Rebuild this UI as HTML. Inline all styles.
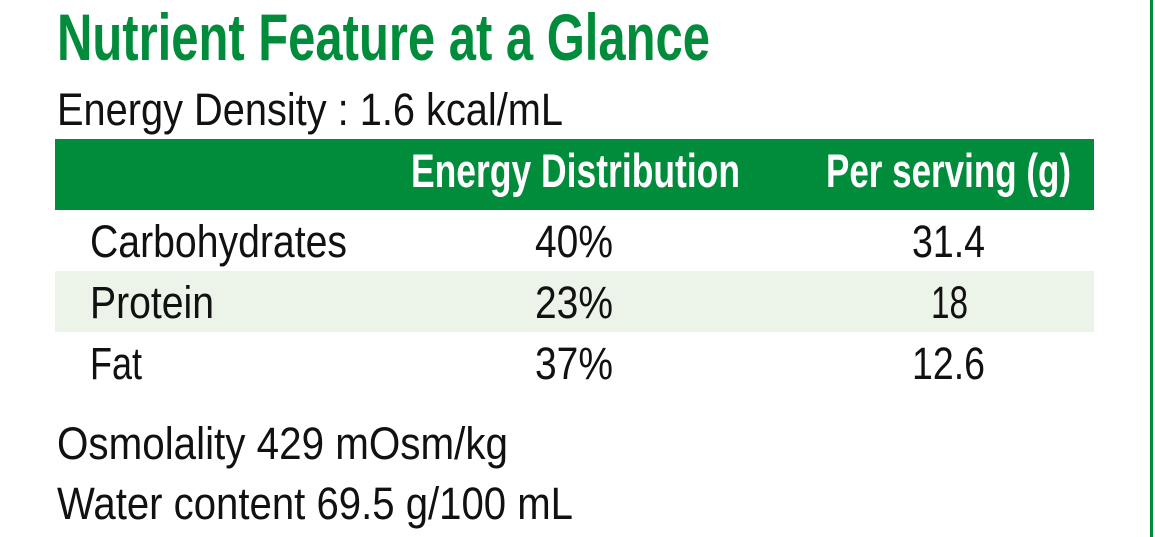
<!DOCTYPE html>
<html><head><meta charset="utf-8"><style>html,body{margin:0;padding:0;background:#fff}svg{display:block}</style></head>
<body>
<svg width="1155" height="537" viewBox="0 0 1155 537" xmlns="http://www.w3.org/2000/svg" font-family="Liberation Sans, sans-serif">
<rect x="1150" y="0" width="3" height="537" fill="#008c3a"/>
<text x="57" y="60" font-size="66" font-weight="bold" fill="#008c3a" textLength="653" lengthAdjust="spacingAndGlyphs">Nutrient Feature at a Glance</text>
<text x="57" y="125" font-size="45" fill="#111" textLength="506" lengthAdjust="spacingAndGlyphs">Energy Density  : 1.6 kcal/mL</text>
<rect x="55" y="139" width="1039" height="71" fill="#008c3a"/>
<text x="411" y="187" font-size="47" font-weight="bold" fill="#fff" textLength="329" lengthAdjust="spacingAndGlyphs">Energy Distribution</text>
<text x="826" y="187" font-size="47" font-weight="bold" fill="#fff" textLength="245" lengthAdjust="spacingAndGlyphs">Per serving (g)</text>
<rect x="55" y="271" width="1039" height="61" fill="#ecf3e9"/>
<g font-size="45" fill="#111">
<text x="90" y="257" textLength="257" lengthAdjust="spacingAndGlyphs">Carbohydrates</text>
<text x="535" y="257" textLength="78" lengthAdjust="spacingAndGlyphs">40%</text>
<text x="912" y="257" textLength="73" lengthAdjust="spacingAndGlyphs">31.4</text>
<text x="90" y="318" textLength="124" lengthAdjust="spacingAndGlyphs">Protein</text>
<text x="535" y="318" textLength="78" lengthAdjust="spacingAndGlyphs">23%</text>
<text x="931" y="318" textLength="37" lengthAdjust="spacingAndGlyphs">18</text>
<text x="90" y="379" textLength="52" lengthAdjust="spacingAndGlyphs">Fat</text>
<text x="535" y="379" textLength="78" lengthAdjust="spacingAndGlyphs">37%</text>
<text x="912" y="379" textLength="73" lengthAdjust="spacingAndGlyphs">12.6</text>
<text x="57" y="459" textLength="451" lengthAdjust="spacingAndGlyphs">Osmolality 429 mOsm/kg</text>
<text x="57" y="519" textLength="516" lengthAdjust="spacingAndGlyphs">Water content 69.5 g/100 mL</text>
</g>
</svg>
</body></html>
